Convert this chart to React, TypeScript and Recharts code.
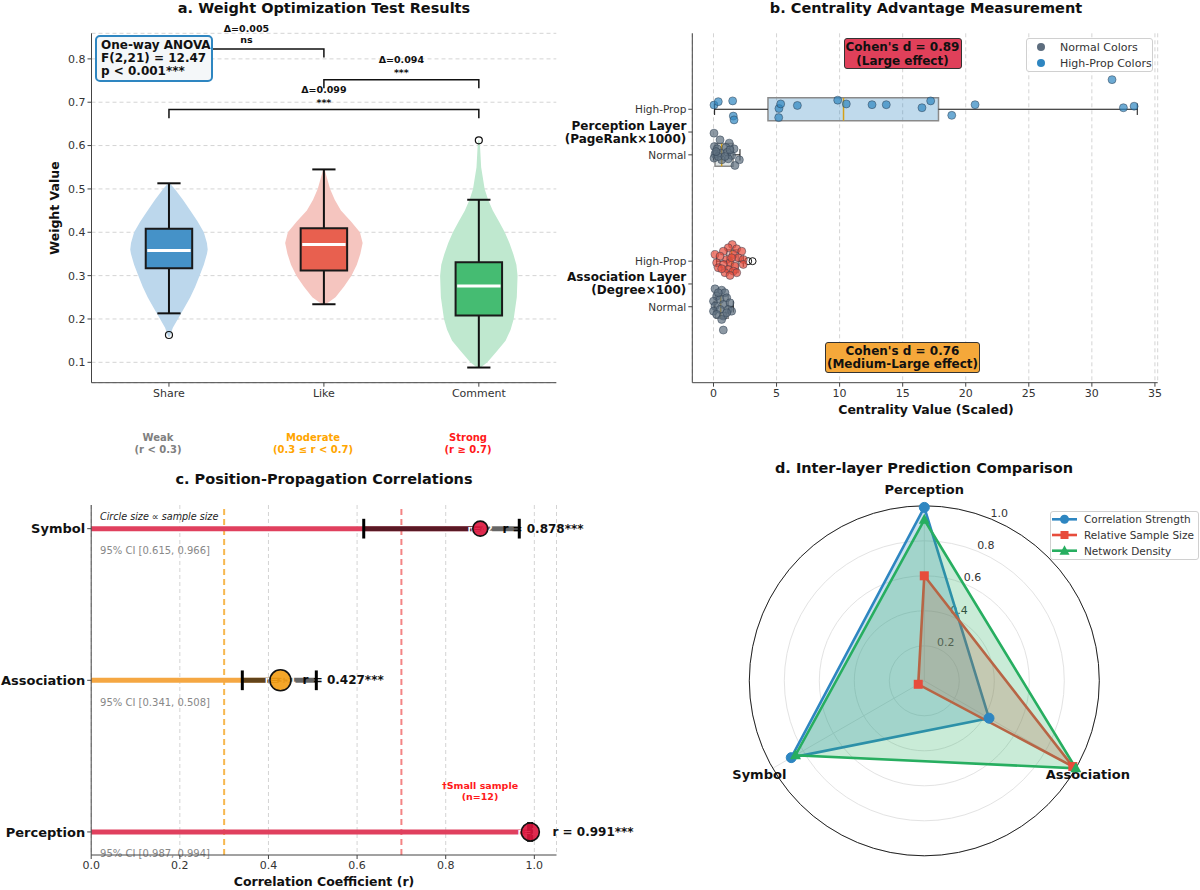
import React from "react";
import {
  CartesianGrid,
  ComposedChart,
  PolarAngleAxis,
  PolarGrid,
  PolarRadiusAxis,
  Radar,
  RadarChart,
  ReferenceArea,
  ReferenceLine,
  Scatter,
  XAxis,
  YAxis,
} from "recharts";

const FONT = "'DejaVu Sans', 'Liberation Sans', sans-serif";

// ---------- a. weight optimisation (violin + box) ----------
const WEIGHT_GROUPS = ["Share", "Like", "Comment"];
const WEIGHT_TICKS = [0.1, 0.2, 0.3, 0.4, 0.5, 0.6, 0.7, 0.8];
const W_LOW = [0.213, 0.234, 0.088];
const W_Q1 = [0.317, 0.312, 0.208];
const W_MED = [0.358, 0.372, 0.276];
const W_Q3 = [0.408, 0.409, 0.331];
const W_HIGH = [0.513, 0.545, 0.475];
const W_OUTLIERS = [[0.163], [], [0.612]];

// violin outline: value level + relative half width (1 = widest)
const SHARE_VIOLIN_Y = [0.159, 0.18, 0.2, 0.225, 0.25, 0.275, 0.3, 0.325, 0.35, 0.36, 0.375, 0.4, 0.425, 0.45, 0.475, 0.5, 0.513];
const SHARE_VIOLIN_W = [0.02, 0.1, 0.23, 0.39, 0.55, 0.68, 0.79, 0.9, 0.98, 1.0, 0.98, 0.9, 0.74, 0.55, 0.36, 0.15, 0.02];
const LIKE_VIOLIN_Y = [0.234, 0.25, 0.275, 0.3, 0.325, 0.35, 0.375, 0.4, 0.425, 0.45, 0.475, 0.5, 0.525, 0.545];
const LIKE_VIOLIN_W = [0.05, 0.3, 0.52, 0.71, 0.85, 0.94, 1.0, 0.93, 0.7, 0.44, 0.28, 0.16, 0.08, 0.02];
const COMMENT_VIOLIN_Y = [0.088, 0.1, 0.125, 0.15, 0.175, 0.2, 0.25, 0.3, 0.325, 0.35, 0.375, 0.4, 0.425, 0.45, 0.475, 0.5, 0.55, 0.6, 0.612];
const COMMENT_VIOLIN_W = [0.05, 0.22, 0.46, 0.69, 0.82, 0.9, 0.98, 1.0, 0.97, 0.89, 0.79, 0.67, 0.52, 0.36, 0.24, 0.15, 0.06, 0.03, 0.01];

const SIG_FROM = [0, 1, 0];
const SIG_TO = [1, 2, 2];
const SIG_BASE = [0.803, 0.732, 0.663];
const SIG_TOP = [0.823, 0.752, 0.683];
const SIG_DELTA = ["Δ=0.005", "Δ=0.094", "Δ=0.099"];
const SIG_MARK = ["ns", "***", "***"];

const VIOLIN_FILL = ["#bcd7ec", "#f5c5bf", "#bfe8cf"];
const BOX_FILL = ["#4592c8", "#e8604f", "#45bc72"];

// ---------- b. centrality ----------
const B_TICK_POS = [0.7, 1, 1.3, 2.7, 3, 3.3];
const B_TICK_LABELS = ["Normal", "Association Layer\n(Degree×100)", "High-Prop", "Normal", "Perception Layer\n(PageRank×1000)", "High-Prop"];
const B_X_TICKS = [0, 5, 10, 15, 20, 25, 30, 35];
// groups: perception high-prop, perception normal, association high-prop, association normal
const B_GROUP_POS = [3.3, 2.7, 1.3, 0.7];
const B_LOW = [0.09, 0.0, 0.25, 0.05];
const B_Q1 = [4.32, 0.12, 1.05, 0.15];
const B_MED = [10.31, 0.65, 1.44, 0.57];
const B_Q3 = [17.84, 1.55, 1.97, 1.17];
const B_HIGH = [33.6, 2.1, 2.36, 1.57];
const B_FLIERS = [[], [], [2.75, 3.1], []];

const PERC_HIGH_X = [0.04, 0.38, 1.52, 1.57, 1.63, 5.17, 5.19, 5.33, 6.65, 9.85, 10.53, 12.57, 13.7, 16.53, 17.22, 18.89, 20.74, 31.6, 32.5, 33.35];
const PERC_HIGH_J = [0.056, 0.1, 0.11, -0.09, -0.14, -0.11, 0.01, 0.07, 0.05, 0.12, 0.07, 0.06, 0.06, 0.02, 0.11, -0.08, 0.06, 0.39, 0.02, 0.04];
const PERC_NORMAL_X = [0.04, 0.52, 1.25, 0.07, 0.3, 0.99, 1.63, 0.12, 0.57, 1.1, 1.44, 2.05, 0.04, 0.65, 1.17, 1.7, 0.38, 0.91, 0.2, 1.31];
const PERC_NORMAL_J = [0.285, 0.197, 0.154, 0.109, 0.079, 0.096, 0.079, 0.009, 0.022, 0.035, -0.009, -0.066, -0.043, -0.066, -0.052, -0.14, -0.022, -0.022, 0.043, 0.066];
const ASSOC_HIGH_X = [1.49, 1.17, 1.84, 0.78, 0.12, 0.52, 1.57, 2.24, 1.05, 1.97, 2.36, 0.25, 1.31, 0.78, 1.7, 2.36, 0.38, 1.17, 1.57, 0.91, 1.84, 1.31, 0.65, 1.44];
const ASSOC_HIGH_J = [0.219, 0.176, 0.163, 0.131, 0.088, 0.066, 0.088, 0.131, 0.022, 0.045, 0.022, -0.021, -0.021, -0.043, -0.066, -0.043, -0.087, -0.109, -0.131, -0.152, -0.152, -0.188, -0.1, 0.045];
const ASSOC_NORMAL_X = [0.12, 0.65, 0.91, 0.25, 0.0, 0.52, 1.05, 0.12, 0.78, 1.31, 0.0, 0.52, 1.17, 0.25, 0.78, 1.44, 0.65, 0.78, 0.38, 1.05];
const ASSOC_NORMAL_J = [0.236, 0.218, 0.184, 0.139, 0.073, 0.096, 0.118, 0.008, 0.03, 0.052, -0.058, -0.035, -0.035, -0.101, -0.123, -0.058, -0.167, -0.307, 0.184, -0.079];

const B_POINT_X = [PERC_HIGH_X, PERC_NORMAL_X, ASSOC_HIGH_X, ASSOC_NORMAL_X];
const B_POINT_J = [PERC_HIGH_J, PERC_NORMAL_J, ASSOC_HIGH_J, ASSOC_NORMAL_J];
const B_POINT_COLOR = ["#2e86c1", "#5d6d7e", "#e74c3c", "#5d6d7e"];
const B_BOX_FILL = ["#2e86c1", "#95a5a6", "#e74c3c", "#95a5a6"];

// ---------- c. correlations ----------
const CORR_LAYERS = ["Perception", "Association", "Symbol"];
const CORR_R = [0.991, 0.427, 0.878];
const CI_LOW = [0.987, 0.341, 0.615];
const CI_HIGH = [0.994, 0.508, 0.966];
const SAMPLE_N = [12, 351, 42];
const CORR_X_TICKS = [0, 0.2, 0.4, 0.6, 0.8, 1.0];
const BAR_COLOR = ["#e0405e", "#f5a742", "#e0405e"];
const DOT_COLOR = ["#dc143c", "#f39c12", "#dc143c"];
const DOT_R = [9, 10.5, 7.5];

// ---------- d. radar ----------
const RADAR_AXES = ["Perception", "Association", "Symbol"];
const RADAR_TICKS = [0, 0.2, 0.4, 0.6, 0.8, 1.0];
const CORR_STRENGTH = [0.991, 0.427, 0.878];
const REL_SAMPLE = [0.6, 0.98, 0.04];
const NET_DENSITY = [0.92, 1.0, 0.85];

const radarData = RADAR_AXES.map((axis, i) => ({
  axis,
  corr: CORR_STRENGTH[i],
  sample: REL_SAMPLE[i],
  density: NET_DENSITY[i],
}));

const RADAR_R = 175;

const noShape = () => <g />;

function polygonLine(fill: string) {
  return (p: any) => (
    <polygon
      points={(p.points || []).map((pt: any) => `${pt.x},${pt.y}`).join(" ")}
      fill={fill}
      stroke="none"
    />
  );
}

function violinOutline(center: number, ys: number[], ws: number[]) {
  const right = ys.map((y, i) => ({ x: center + 0.25 * ws[i], y }));
  const left = ys.map((y, i) => ({ x: center - 0.25 * ws[i], y })).reverse();
  return [...right, ...left];
}

function Txt(props: {
  x: number;
  y: number;
  children: React.ReactNode;
  size?: number;
  weight?: string;
  color?: string;
  anchor?: "start" | "middle" | "end";
  rotate?: number;
  italic?: boolean;
}) {
  const { x, y, children, size = 12, weight = "normal", color = "#111", anchor = "middle", rotate = 0, italic } = props;
  const tx = anchor === "middle" ? "-50%" : anchor === "end" ? "-100%" : "0";
  return (
    <div
      style={{
        position: "absolute",
        left: x,
        top: y,
        transform: `translate(${tx}, -50%) rotate(${rotate}deg)`,
        fontSize: size,
        fontWeight: weight as any,
        color,
        whiteSpace: "nowrap",
        lineHeight: 1,
        fontStyle: italic ? "italic" : "normal",
      }}
    >
      {children}
    </div>
  );
}

const axisTick = { fontSize: 11, fill: "#333" };

function PanelA() {
  const violins = [
    violinOutline(0, SHARE_VIOLIN_Y, SHARE_VIOLIN_W),
    violinOutline(1, LIKE_VIOLIN_Y, LIKE_VIOLIN_W),
    violinOutline(2, COMMENT_VIOLIN_Y, COMMENT_VIOLIN_W),
  ];
  return (
    <div style={{ position: "absolute", left: 0, top: 0 }}>
      <ComposedChart width={600} height={420} margin={{ top: 33.3, right: 43.7, bottom: 7.3, left: 41.5 }}>
        <CartesianGrid vertical={false} stroke="#d4d4d4" strokeDasharray="4 3" />
        <XAxis
          type="number"
          dataKey="x"
          domain={[-0.5, 2.5]}
          ticks={[0, 1, 2]}
          interval={0}
          tickFormatter={(v: number) => WEIGHT_GROUPS[v]}
          height={30}
          tickSize={4}
          stroke="#444"
          tick={axisTick}
        />
        <YAxis
          type="number"
          dataKey="y"
          domain={[0.053, 0.859]}
          ticks={WEIGHT_TICKS}
          interval={0}
          tickFormatter={(v: number) => v.toFixed(1)}
          width={50}
          tickSize={4}
          stroke="#444"
          tick={axisTick}
        />
        {violins.map((pts, i) => (
          <Scatter
            key={`violin-${i}`}
            data={pts}
            fill={VIOLIN_FILL[i]}
            shape={noShape}
            line={polygonLine(VIOLIN_FILL[i])}
            isAnimationActive={false}
            zIndex={10}
          />
        ))}
        {WEIGHT_GROUPS.map((g, i) => (
          <ReferenceLine key={`wu-${g}`} segment={[{ x: i, y: W_Q3[i] }, { x: i, y: W_HIGH[i] }]} stroke="#111" strokeWidth={2} zIndex={20} />
        ))}
        {WEIGHT_GROUPS.map((g, i) => (
          <ReferenceLine key={`wl-${g}`} segment={[{ x: i, y: W_LOW[i] }, { x: i, y: W_Q1[i] }]} stroke="#111" strokeWidth={2} zIndex={20} />
        ))}
        {WEIGHT_GROUPS.map((g, i) => (
          <ReferenceLine key={`cu-${g}`} segment={[{ x: i - 0.075, y: W_HIGH[i] }, { x: i + 0.075, y: W_HIGH[i] }]} stroke="#111" strokeWidth={2} zIndex={20} />
        ))}
        {WEIGHT_GROUPS.map((g, i) => (
          <ReferenceLine key={`cl-${g}`} segment={[{ x: i - 0.075, y: W_LOW[i] }, { x: i + 0.075, y: W_LOW[i] }]} stroke="#111" strokeWidth={2} zIndex={20} />
        ))}
        {WEIGHT_GROUPS.map((g, i) => (
          <ReferenceArea
            key={`box-${g}`}
            x1={i - 0.15}
            x2={i + 0.15}
            y1={W_Q1[i]}
            y2={W_Q3[i]}
            fill={BOX_FILL[i]}
            fillOpacity={1}
            stroke="#1a1a1a"
            strokeWidth={2}
            zIndex={25}
          />
        ))}
        {WEIGHT_GROUPS.map((g, i) => (
          <ReferenceLine key={`med-${g}`} segment={[{ x: i - 0.14, y: W_MED[i] }, { x: i + 0.14, y: W_MED[i] }]} stroke="#fff" strokeWidth={3} zIndex={30} />
        ))}
        {WEIGHT_GROUPS.map((g, i) => (
          <Scatter
            key={`out-${g}`}
            data={W_OUTLIERS[i].map((y) => ({ x: i, y }))}
            isAnimationActive={false}
            shape={(p: any) => <circle cx={p.cx} cy={p.cy} r={3.5} fill="none" stroke="#111" strokeWidth={1.2} />}
            zIndex={40}
          />
        ))}
        {SIG_FROM.map((from, k) => (
          <Scatter
            key={`sig-${k}`}
            data={[
              { x: from, y: SIG_BASE[k] },
              { x: from, y: SIG_TOP[k] },
              { x: SIG_TO[k], y: SIG_TOP[k] },
              { x: SIG_TO[k], y: SIG_BASE[k] },
            ]}
            fill="#111"
            shape={noShape}
            line={{ stroke: "#111", strokeWidth: 1.5 }}
            isAnimationActive={false}
            zIndex={40}
          />
        ))}
        {SIG_FROM.map((from, k) => (
          <Scatter
            key={`sigt-${k}`}
            data={[{ x: (from + SIG_TO[k]) / 2, y: SIG_TOP[k], delta: SIG_DELTA[k], mark: SIG_MARK[k] }]}
            isAnimationActive={false}
            shape={(p: any) => (
              <g>
                <text x={p.cx} y={p.cy - 20} textAnchor="middle" dominantBaseline="central" fontSize={9.5} fontWeight="bold" fill="#111">
                  {p.payload.delta}
                </text>
                <text x={p.cx} y={p.cy - (p.payload.mark === "ns" ? 9 : 7)} textAnchor="middle" dominantBaseline="central" fontSize={9.5} fontWeight="bold" fill="#111">
                  {p.payload.mark}
                </text>
              </g>
            )}
            zIndex={50}
          />
        ))}
      </ComposedChart>
    </div>
  );
}

function CentralityTick(props: any) {
  const { x, y, payload } = props;
  const idx = B_TICK_POS.findIndex((v) => Math.abs(v - payload.value) < 1e-6);
  const label = idx >= 0 ? B_TICK_LABELS[idx] : "";
  const lines = label.split("\n");
  if (lines.length > 1) {
    return (
      <g>
        <text x={x} y={y - 6.5} textAnchor="end" dominantBaseline="central" fontSize={12} fontWeight="bold" fill="#111">
          {lines[0]}
        </text>
        <text x={x} y={y + 6.5} textAnchor="end" dominantBaseline="central" fontSize={12} fontWeight="bold" fill="#111">
          {lines[1]}
        </text>
      </g>
    );
  }
  return (
    <text x={x} y={y} textAnchor="end" dominantBaseline="central" fontSize={10.5} fill="#333">
      {label}
    </text>
  );
}

function PanelB() {
  return (
    <div style={{ position: "absolute", left: 560, top: 0 }}>
      <ComposedChart width={640} height={430} margin={{ top: 33.3, right: 42.3, bottom: 17.3, left: 7.3 }}>
        <CartesianGrid horizontal={false} stroke="#d4d4d4" strokeDasharray="4 3" />
        <XAxis
          type="number"
          dataKey="x"
          domain={[-1.68, 35.22]}
          ticks={B_X_TICKS}
          interval={0}
          height={30}
          tickSize={4}
          stroke="#444"
          tick={axisTick}
        />
        <YAxis
          type="number"
          dataKey="y"
          domain={[-0.3, 4.3]}
          ticks={B_TICK_POS}
          interval={0}
          width={125}
          tickSize={4}
          stroke="#444"
          tick={<CentralityTick />}
        />
        {B_GROUP_POS.map((pos, g) => (
          <ReferenceArea
            key={`bbox-${g}`}
            x1={B_Q1[g]}
            x2={B_Q3[g]}
            y1={pos - 0.15}
            y2={pos + 0.15}
            fill={B_BOX_FILL[g]}
            fillOpacity={0.3}
            stroke="#8a8a8a"
            strokeWidth={1.5}
            zIndex={10}
          />
        ))}
        {B_GROUP_POS.map((pos, g) => (
          <ReferenceLine key={`bwl-${g}`} segment={[{ x: B_LOW[g], y: pos }, { x: B_Q1[g], y: pos }]} stroke="#111" strokeWidth={1} zIndex={15} />
        ))}
        {B_GROUP_POS.map((pos, g) => (
          <ReferenceLine key={`bwh-${g}`} segment={[{ x: B_Q3[g], y: pos }, { x: B_HIGH[g], y: pos }]} stroke="#111" strokeWidth={1} zIndex={15} />
        ))}
        {B_GROUP_POS.map((pos, g) => (
          <ReferenceLine key={`bcl-${g}`} segment={[{ x: B_LOW[g], y: pos - 0.075 }, { x: B_LOW[g], y: pos + 0.075 }]} stroke="#111" strokeWidth={1} zIndex={15} />
        ))}
        {B_GROUP_POS.map((pos, g) => (
          <ReferenceLine key={`bch-${g}`} segment={[{ x: B_HIGH[g], y: pos - 0.075 }, { x: B_HIGH[g], y: pos + 0.075 }]} stroke="#111" strokeWidth={1} zIndex={15} />
        ))}
        {B_GROUP_POS.map((pos, g) => (
          <ReferenceLine key={`bmed-${g}`} segment={[{ x: B_MED[g], y: pos - 0.15 }, { x: B_MED[g], y: pos + 0.15 }]} stroke="#d4a017" strokeWidth={1.5} zIndex={18} />
        ))}
        {B_GROUP_POS.map((pos, g) => (
          <Scatter
            key={`bfl-${g}`}
            data={B_FLIERS[g].map((x) => ({ x, y: pos }))}
            isAnimationActive={false}
            shape={(p: any) => <circle cx={p.cx} cy={p.cy} r={3.5} fill="none" stroke="#111" strokeWidth={1} />}
            zIndex={20}
          />
        ))}
        {B_GROUP_POS.map((pos, g) => (
          <Scatter
            key={`bpt-${g}`}
            data={B_POINT_X[g].map((x, k) => ({ x, y: pos + B_POINT_J[g][k] }))}
            isAnimationActive={false}
            shape={(p: any) => (
              <circle cx={p.cx} cy={p.cy} r={4} fill={B_POINT_COLOR[g]} fillOpacity={0.7} stroke="#2c3e50" strokeOpacity={0.7} strokeWidth={0.7} />
            )}
            zIndex={30}
          />
        ))}
      </ComposedChart>
    </div>
  );
}

function PanelC() {
  return (
    <div style={{ position: "absolute", left: 0, top: 460 }}>
      <ComposedChart width={660} height={430} margin={{ top: 45, right: 103.5, bottom: 5, left: 6.2 }}>
        <CartesianGrid horizontal={false} stroke="#d4d4d4" strokeDasharray="4 3" />
        <XAxis
          type="number"
          dataKey="x"
          domain={[0, 1.05]}
          ticks={CORR_X_TICKS}
          interval={0}
          tickFormatter={(v: number) => v.toFixed(1)}
          height={30}
          tickSize={4}
          stroke="#444"
          tick={axisTick}
        />
        <YAxis
          type="number"
          dataKey="y"
          domain={[-0.152, 2.156]}
          ticks={[0, 1, 2]}
          interval={0}
          tickFormatter={(v: number) => CORR_LAYERS[v]}
          width={85}
          tickSize={4}
          stroke="#444"
          tick={{ fontSize: 13, fontWeight: "bold", fill: "#111" }}
        />
        <ReferenceLine x={0.3} stroke="#f5a623" strokeOpacity={0.8} strokeWidth={2} strokeDasharray="6 4" zIndex={5} />
        <ReferenceLine x={0.7} stroke="#ef5b5b" strokeOpacity={0.75} strokeWidth={2} strokeDasharray="6 4" zIndex={5} />
        {CORR_LAYERS.map((l, i) => (
          <ReferenceLine key={`bar-${l}`} segment={[{ x: 0, y: i }, { x: CORR_R[i], y: i }]} stroke={BAR_COLOR[i]} strokeWidth={5} zIndex={10} />
        ))}
        {CORR_LAYERS.map((l, i) => (
          <Scatter
            key={`rl-${l}`}
            data={[{ x: CORR_R[i] + 0.05, y: i, label: `r = ${CORR_R[i].toFixed(3)}***` }]}
            isAnimationActive={false}
            shape={(p: any) => (
              <text x={p.cx} y={p.cy} textAnchor="start" dominantBaseline="central" fontSize={12} fontWeight="bold" fill="#111">
                {p.payload.label}
              </text>
            )}
            zIndex={12}
          />
        ))}
        {CORR_LAYERS.map((l, i) => (
          <ReferenceLine key={`ci-${l}`} segment={[{ x: CI_LOW[i], y: i }, { x: CI_HIGH[i], y: i }]} stroke="#000" strokeOpacity={0.6} strokeWidth={5} zIndex={15} />
        ))}
        {CORR_LAYERS.map((l, i) => (
          <ReferenceLine key={`cil-${l}`} segment={[{ x: CI_LOW[i], y: i - 0.065 }, { x: CI_LOW[i], y: i + 0.065 }]} stroke="#000" strokeWidth={3} zIndex={16} />
        ))}
        {CORR_LAYERS.map((l, i) => (
          <ReferenceLine key={`cih-${l}`} segment={[{ x: CI_HIGH[i], y: i - 0.065 }, { x: CI_HIGH[i], y: i + 0.065 }]} stroke="#000" strokeWidth={3} zIndex={16} />
        ))}
        {CORR_LAYERS.map((l, i) => (
          <Scatter
            key={`n-${l}`}
            data={[{ x: CORR_R[i], y: i, label: `n=${SAMPLE_N[i]}` }]}
            isAnimationActive={false}
            shape={(p: any) => (
              <text x={p.cx} y={p.cy} textAnchor="middle" dominantBaseline="central" fontSize={8.5} fontWeight="bold" fill="#fff">
                {p.payload.label}
              </text>
            )}
            zIndex={18}
          />
        ))}
        {CORR_LAYERS.map((l, i) => (
          <Scatter
            key={`dot-${l}`}
            data={[{ x: CORR_R[i], y: i }]}
            isAnimationActive={false}
            shape={(p: any) => (
              <circle cx={p.cx} cy={p.cy} r={DOT_R[i]} fill={DOT_COLOR[i]} fillOpacity={0.9} stroke="#111" strokeWidth={1.6} />
            )}
            zIndex={20}
          />
        ))}
        {CORR_LAYERS.map((l, i) => (
          <Scatter
            key={`cit-${l}`}
            data={[{ x: 0.02, y: i - 0.145, label: `95% CI [${CI_LOW[i].toFixed(3)}, ${CI_HIGH[i].toFixed(3)}]` }]}
            isAnimationActive={false}
            shape={(p: any) => (
              <text x={p.cx} y={p.cy} textAnchor="start" dominantBaseline="central" fontSize={10} fill="#888">
                {p.payload.label}
              </text>
            )}
            zIndex={8}
          />
        ))}
      </ComposedChart>
    </div>
  );
}

const RADAR_LABEL_OFFSET: Record<string, [number, number]> = {
  Perception: [0, -8],
  Association: [5, 2],
  Symbol: [-6.5, 2],
};

function RadarAxisTick(props: any) {
  const { x, y, payload } = props;
  const [dx, dy] = RADAR_LABEL_OFFSET[payload.value] || [0, 0];
  return (
    <text x={x + dx} y={y + dy} textAnchor="middle" dominantBaseline="central" fontSize={13} fontWeight="bold" fill="#111">
      {payload.value}
    </text>
  );
}

function RadiusTick(props: any) {
  const { x, y, payload } = props;
  if (!payload || Number(payload.value) === 0) return <g />;
  return (
    <text x={x + 8} y={y - 6} textAnchor="middle" dominantBaseline="central" fontSize={11} fill="#333">
      {Number(payload.value).toFixed(1)}
    </text>
  );
}

const circleDot = (c: string) => (p: any) => <circle key={`c${p.index}`} cx={p.cx} cy={p.cy} r={5} fill={c} stroke={c} />;
const squareDot = (c: string) => (p: any) => <rect key={`s${p.index}`} x={p.cx - 4.5} y={p.cy - 4.5} width={9} height={9} fill={c} />;
const triangleDot = (c: string) => (p: any) => (
  <polygon key={`t${p.index}`} points={`${p.cx},${p.cy - 6} ${p.cx - 5.5},${p.cy + 4} ${p.cx + 5.5},${p.cy + 4}`} fill={c} />
);

function PanelD() {
  return (
    <div style={{ position: "absolute", left: 700, top: 450 }}>
      <RadarChart width={500} height={440} data={radarData} cx={224.3} cy={230.8} outerRadius={RADAR_R} margin={{ top: 0, right: 0, bottom: 0, left: 0 }}>
        <PolarGrid
          gridType="circle"
          stroke="#e3e3e3"
          polarRadius={RADAR_TICKS.slice(1).map((t) => t * RADAR_R)}
        />
        <PolarAngleAxis dataKey="axis" tick={<RadarAxisTick />} tickLine={false} axisLineType="circle" axisLine={{ stroke: "#222", strokeWidth: 1 }} />
        <PolarRadiusAxis
          angle={67.5}
          type="number"
          domain={[0, 1]}
          ticks={RADAR_TICKS}
          tickCount={6}
          allowDecimals
          axisLine={false}
          tickLine={false}
          tick={<RadiusTick />}
          zIndex={1}
        />
        <Radar dataKey="corr" stroke="#2e86c1" strokeWidth={2.6} fill="#2e86c1" fillOpacity={0.25} dot={circleDot("#2e86c1")} isAnimationActive={false} zIndex={10} />
        <Radar dataKey="sample" stroke="#e74c3c" strokeWidth={2.6} fill="#e74c3c" fillOpacity={0.25} dot={squareDot("#e74c3c")} isAnimationActive={false} zIndex={11} />
        <Radar dataKey="density" stroke="#27ae60" strokeWidth={2.6} fill="#27ae60" fillOpacity={0.25} dot={triangleDot("#27ae60")} isAnimationActive={false} zIndex={12} />
      </RadarChart>
    </div>
  );
}

function Overlays() {
  return (
    <>
      {/* titles */}
      <Txt x={324} y={8} size={14.5} weight="bold">a. Weight Optimization Test Results</Txt>
      <Txt x={926} y={8} size={14.5} weight="bold">b. Centrality Advantage Measurement</Txt>
      <Txt x={324} y={479} size={14.5} weight="bold">c. Position-Propagation Correlations</Txt>
      <Txt x={924} y={468} size={14.5} weight="bold">d. Inter-layer Prediction Comparison</Txt>

      {/* axis labels */}
      <Txt x={55} y={208} size={12.5} weight="bold" rotate={-90}>Weight Value</Txt>
      <Txt x={926} y={410} size={12.5} weight="bold">Centrality Value (Scaled)</Txt>
      <Txt x={324} y={882} size={12.5} weight="bold">Correlation Coefficient (r)</Txt>

      {/* ANOVA box */}
      <div
        style={{
          position: "absolute",
          left: 95,
          top: 35,
          width: 117.5,
          height: 46.7,
          boxSizing: "border-box",
          border: "2px solid #2e86c1",
          borderRadius: 5,
          background: "#f4f7f9",
        }}
      />
      <Txt x={101} y={45} size={12} weight="bold" anchor="start">One-way ANOVA</Txt>
      <Txt x={101} y={58} size={12} weight="bold" anchor="start">F(2,21) = 12.47</Txt>
      <Txt x={101} y={71} size={12} weight="bold" anchor="start">p &lt; 0.001***</Txt>

      {/* Cohen's d boxes */}
      <div style={{ position: "absolute", left: 843.5, top: 38.3, width: 118, height: 31, boxSizing: "border-box", border: "1px solid #333", borderRadius: 3, background: "#e0405a" }} />
      <Txt x={902.5} y={46.5} size={12} weight="bold">Cohen's d = 0.89</Txt>
      <Txt x={902.5} y={60.5} size={12} weight="bold">(Large effect)</Txt>
      <div style={{ position: "absolute", left: 825, top: 342.3, width: 155, height: 31, boxSizing: "border-box", border: "1px solid #333", borderRadius: 3, background: "#f5a83a" }} />
      <Txt x={902.5} y={350.7} size={12} weight="bold">Cohen's d = 0.76</Txt>
      <Txt x={902.5} y={364} size={12} weight="bold">(Medium-Large effect)</Txt>

      {/* legend b */}
      <div style={{ position: "absolute", left: 1025.8, top: 38.3, width: 127, height: 34, boxSizing: "border-box", border: "1px solid #d0d0d0", borderRadius: 3, background: "rgba(255,255,255,0.9)" }} />
      <div style={{ position: "absolute", left: 1037, top: 43, width: 8, height: 8, borderRadius: 4, background: "#5d6d7e" }} />
      <div style={{ position: "absolute", left: 1037, top: 59, width: 8, height: 8, borderRadius: 4, background: "#2e86c1" }} />
      <Txt x={1060} y={47} size={11} anchor="start" color="#333">Normal Colors</Txt>
      <Txt x={1060} y={63} size={11} anchor="start" color="#333">High-Prop Colors</Txt>

      {/* strength legend above c */}
      <Txt x={158} y={438} size={10} weight="bold" color="#808080">Weak</Txt>
      <Txt x={158} y={450} size={10} weight="bold" color="#808080">(r &lt; 0.3)</Txt>
      <Txt x={313} y={438} size={10} weight="bold" color="#ffa500">Moderate</Txt>
      <Txt x={313} y={450} size={10} weight="bold" color="#ffa500">(0.3 ≤ r &lt; 0.7)</Txt>
      <Txt x={468} y={438} size={10} weight="bold" color="#ff1a1a">Strong</Txt>
      <Txt x={468} y={450} size={10} weight="bold" color="#ff1a1a">(r ≥ 0.7)</Txt>

      <Txt x={100} y={517} size={9.6} anchor="start" italic color="#222">Circle size ∝ sample size</Txt>
      <Txt x={480} y={786} size={9.5} weight="bold" color="#ff1a1a">†Small sample</Txt>
      <Txt x={480} y={797} size={9.5} weight="bold" color="#ff1a1a">(n=12)</Txt>

      {/* legend d */}
      <div style={{ position: "absolute", left: 1050, top: 511, width: 149, height: 49, boxSizing: "border-box", border: "1px solid #d0d0d0", borderRadius: 3, background: "rgba(255,255,255,0.9)" }} />
      <svg style={{ position: "absolute", left: 1050, top: 511 }} width={40} height={49}>
        <line x1={2} y1={8.3} x2={27} y2={8.3} stroke="#2e86c1" strokeWidth={2.6} />
        <circle cx={14.5} cy={8.3} r={4.5} fill="#2e86c1" />
        <line x1={2} y1={24} x2={27} y2={24} stroke="#e74c3c" strokeWidth={2.6} />
        <rect x={10.5} y={20} width={8} height={8} fill="#e74c3c" />
        <line x1={2} y1={39.7} x2={27} y2={39.7} stroke="#27ae60" strokeWidth={2.6} />
        <polygon points="14.5,34.2 9.5,43.7 19.5,43.7" fill="#27ae60" />
      </svg>
      <Txt x={1084} y={519.3} size={10.5} anchor="start" color="#333">Correlation Strength</Txt>
      <Txt x={1084} y={535} size={10.5} anchor="start" color="#333">Relative Sample Size</Txt>
      <Txt x={1084} y={550.7} size={10.5} anchor="start" color="#333">Network Density</Txt>
    </>
  );
}

export default function App() {
  return (
    <div
      style={{
        position: "absolute",
        left: 0,
        top: 0,
        width: 1200,
        height: 890,
        background: "#fff",
        fontFamily: FONT,
        overflow: "hidden",
      }}
    >
      <PanelA />
      <PanelB />
      <PanelC />
      <PanelD />
      <Overlays />
    </div>
  );
}
